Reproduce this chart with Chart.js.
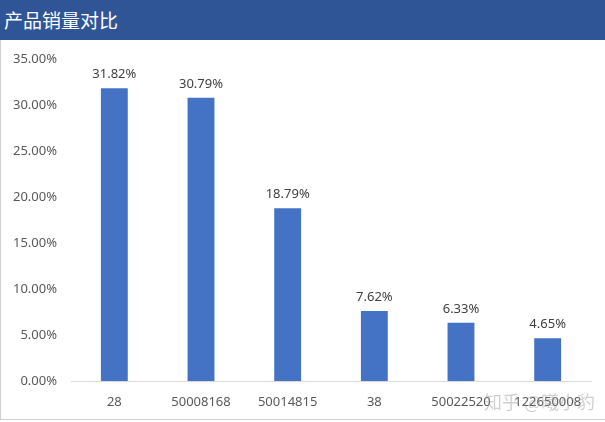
<!DOCTYPE html>
<html>
<head>
<meta charset="utf-8">
<script src="https://cdn.jsdelivr.net/npm/chart.js@4/dist/chart.umd.min.js"></script>
<style>
  body { margin: 0; background: #fff; width: 605px; height: 422px; overflow: hidden; position: relative; }
  #title { height: 40px; background: #2F5597; color: #fff; font-family: "Noto Sans CJK SC", sans-serif;
           font-size: 19px; line-height: 40px; padding-left: 4px; box-sizing: border-box; }
  #box { position: absolute; left: 0; top: 40px; width: 605px; height: 380px;
         border-left: 1px solid #D0D0D0; border-bottom: 1px solid #D0D0D0; box-sizing: border-box; }
  #wm { position: absolute; left: 484px; top: 388px; color: rgba(150,150,150,0.45);
        font-family: "Noto Sans CJK SC", sans-serif; font-size: 18px; }
</style>
</head>
<body>
<div id="title">产品销量对比</div>
<div id="box"><canvas id="myChart" width="604" height="379"></canvas></div>
<div id="wm">知乎 @曦小豹</div>
<script>
var categories = ['28', '50008168', '50014815', '38', '50022520', '122650008'];
var shares = [31.82, 30.79, 18.79, 7.62, 6.33, 4.65];
var yTicks = [0, 5, 10, 15, 20, 25, 30, 35];

var numFont = '"Noto Sans", "DejaVu Sans", sans-serif';

// value labels above each bar
var barLabels = {
    id: 'barLabels',
    afterDatasetsDraw: function(chart){
        var ctx = chart.ctx;
        var meta = chart.getDatasetMeta(0);
        ctx.save();
        ctx.fillStyle = '#404040';
        ctx.font = '13px ' + numFont;
        ctx.textAlign = 'center';
        ctx.textBaseline = 'bottom';
        meta.data.forEach(function(bar, i){
            ctx.fillText(shares[i].toFixed(2) + '%', bar.x, bar.y - 7);
        });
        ctx.restore();
    }
};

function Drawgraphonfront(){
    var ctx = document.getElementById('myChart').getContext('2d');
    new Chart(ctx, {
        type: 'bar',
        data: {
            labels: categories,
            datasets: [{
                data: shares,
                backgroundColor: '#4472C4',
                barPercentage: 0.31,
                categoryPercentage: 1.0
            }]
        },
        options: {
            responsive: false,
            animation: false,
            layout: { padding: { left: 0, right: 14, top: 19, bottom: 0 } },
            plugins: {
                legend: { display: false },
                tooltip: { enabled: false }
            },
            scales: {
                x: {
                    grid: { display: false, drawTicks: false },
                    border: { color: '#D9D9D9' },
                    ticks: { color: '#595959', font: { size: 13, family: numFont }, padding: 13, maxRotation: 0, autoSkip: false },
                    afterFit: function(s){ s.height = 38; }
                },
                y: {
                    min: 0,
                    max: 35,
                    grid: { display: false, drawTicks: false },
                    border: { display: false },
                    afterBuildTicks: function(s){ s.ticks = yTicks.map(function(v){ return { value: v }; }); },
                    ticks: {
                        color: '#595959',
                        font: { size: 13, family: numFont },
                        padding: 14,
                        callback: function(v){ return v.toFixed(2) + '%'; }
                    },
                    afterFit: function(s){ s.width = 70; s.paddingTop = 0; s.paddingBottom = 0; }
                }
            }
        },
        plugins: [barLabels]
    });
}

Drawgraphonfront();
</script>
</body>
</html>
